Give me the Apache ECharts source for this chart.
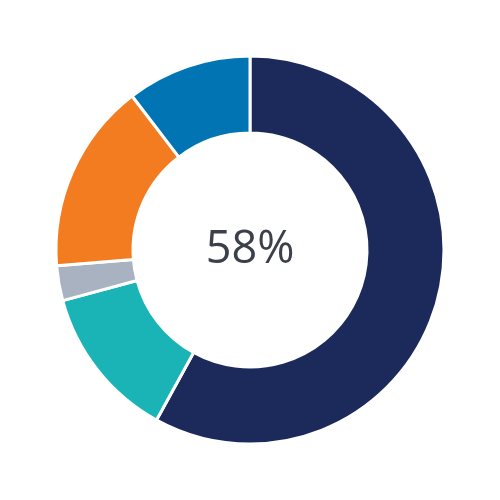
<!DOCTYPE html>
<html><head><meta charset="utf-8">
<script src="https://cdn.jsdelivr.net/npm/echarts@6/dist/echarts.min.js"></script>
<style>html,body{margin:0;padding:0;background:#fff}#c{width:500px;height:500px}</style>
</head><body><div id="c"></div>
<script>
const categories = ['A','B','C','D','E'];
const values = [58, 12.8, 2.9, 15.9, 10.4];
const colors = ['#1b2a5b','#1ab4b6','#a8b2c0','#f47c20','#0175b4'];
const centerLabel = '58%';
const chart = echarts.init(document.getElementById('c'));
chart.setOption({
  animation:false,
  graphic:[{type:'text',left:'center',top:'center',style:{text:centerLabel,fontSize:45,fontFamily:'Open Sans',fill:'#3b404b'}}],
  series:[{
    type:'pie',
    center:[250,250],
    radius:[117,194],
    startAngle:90,
    clockwise:true,
    label:{show:false},
    labelLine:{show:false},
    itemStyle:{borderColor:'#fff',borderWidth:3},
    data: categories.map((c,i)=>({name:c,value:values[i],itemStyle:{color:colors[i]}}))
  }]
});
</script></body></html>
